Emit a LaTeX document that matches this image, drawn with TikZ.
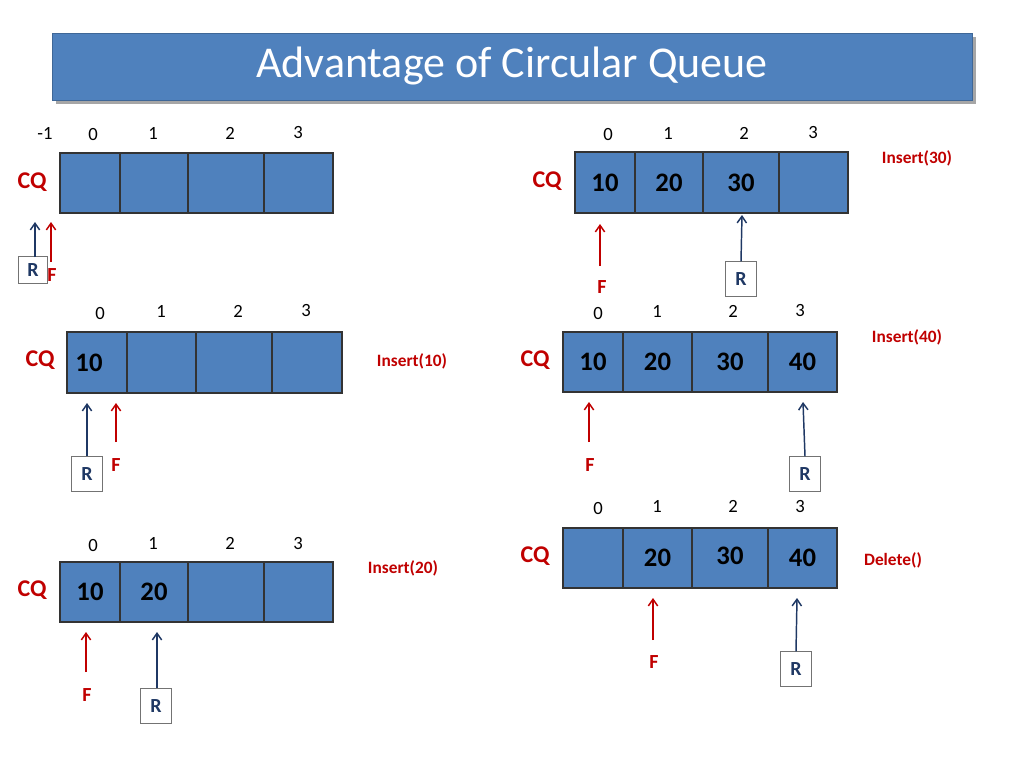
\documentclass[tikz,border=0pt]{standalone}
\usepackage{fontspec}
\setmainfont{Carlito}
\usetikzlibrary{arrows.meta}
\definecolor{cellblue}{HTML}{4F81BD}
\definecolor{cqred}{HTML}{C00000}
\definecolor{navy}{HTML}{1F3864}
\tikzset{
  cell/.style={draw=black!80,line width=1.2pt,fill=cellblue,inner sep=0pt,font=\bfseries\fontsize{20}{22}\selectfont},
  idx/.style={font=\fontsize{14}{16}\selectfont,inner sep=0pt},
  cqlab/.style={text=cqred,font=\bfseries\fontsize{18}{20}\selectfont,inner sep=0pt},
  oplab/.style={text=cqred,font=\bfseries\fontsize{13}{15}\selectfont,inner sep=0pt},
  flab/.style={text=cqred,font=\bfseries\fontsize{15}{17}\selectfont,inner sep=0pt},
  rbox/.style={draw=black!55,fill=white,text=navy,font=\bfseries\fontsize{15}{17}\selectfont,inner sep=0pt,minimum width=23pt,minimum height=26pt},
  rarr/.style={draw=navy,line width=1.1pt,-{Straight Barb[length=5pt,width=7pt]}},
  farr/.style={draw=cqred,line width=1.1pt,-{Straight Barb[length=5pt,width=7pt]}},
}
% \qc{name}{x1}{x2}{y1}{y2}{text}
\newcommand\qc[6]{\node[cell,minimum width={(#3-#2)*0.75pt},minimum height={(#5-#4)*0.75pt}] (#1) at ({(#2+#3)/2},{(#4+#5)/2}) {#6};}
\begin{document}
\begin{tikzpicture}[x=0.75pt,y=-0.75pt]
\useasboundingbox (0,0) rectangle (1024,768);
% title
\fill[black!35] (56,37) rectangle (976,104);
\node[fill=cellblue,draw=cellblue!80!black,minimum width=920*0.75pt,minimum height=67*0.75pt,text=white,font=\fontsize{33}{36}\selectfont,inner sep=0pt] (title) at (512,66.5) {Advantage of Circular Queue};

% Queue 1
\qc{a0}{60}{120}{153}{213}{} \qc{a1}{120}{188}{153}{213}{} \qc{a2}{188}{264}{153}{213}{} \qc{a3}{264}{333}{153}{213}{}
\node[idx] (am) at (45,133) {-1}; \node[idx] (ai0) at (93,135) {0}; \node[idx] (ai1) at (153,133) {1}; \node[idx] (ai2) at (230,133) {2}; \node[idx] (ai3) at (298,133) {3};
\node[cqlab] (acq) at (32,182) {CQ};
\node[rbox,minimum width=22pt,minimum height=20pt] (aR) at (33,270) {R};
\node[flab] (aF) at (52,275) {F};
\coordinate (aRt) at (35,222); \coordinate (aFt) at (51,222);
\draw[rarr] (35,257) -- (aRt);
\draw[farr] (51,262) -- (aFt);

% Queue 2
\qc{b0}{67}{127}{332}{393}{\hspace*{-12pt}10} \qc{b1}{127}{196}{332}{393}{} \qc{b2}{196}{272}{332}{393}{} \qc{b3}{272}{342}{332}{393}{}
\node[idx] (bi0) at (100,313) {0}; \node[idx] (bi1) at (161,311) {1}; \node[idx] (bi2) at (238,311) {2}; \node[idx] (bi3) at (306,311) {3};
\node[cqlab] (bcq) at (40,360) {CQ};
\node[oplab] (bop) at (412,361) {Insert(10)};
\node[rbox] (bR) at (87,474) {R};
\node[flab] (bF) at (116,465) {F};
\coordinate (bRt) at (87,403); \coordinate (bFt) at (116,403);
\draw[rarr] (bR.north) -- (bRt);
\draw[farr] (116,442) -- (bFt);

% Queue 3
\qc{c0}{60}{120}{562}{622}{10} \qc{c1}{120}{188}{562}{622}{20} \qc{c2}{188}{264}{562}{622}{} \qc{c3}{264}{333}{562}{622}{}
\node[idx] (ci0) at (93,545) {0}; \node[idx] (ci1) at (153,543) {1}; \node[idx] (ci2) at (230,543) {2}; \node[idx] (ci3) at (298,543) {3};
\node[cqlab] (ccq) at (32,590) {CQ};
\node[oplab] (cop) at (403,568) {Insert(20)};
\node[flab] (cF) at (87,695) {F};
\node[rbox] (cR) at (156,706) {R};
\coordinate (cFt) at (86,632); \coordinate (cRt) at (157,632);
\draw[farr] (86,672) -- (cFt);
\draw[rarr] (157,688) -- (cRt);

% Right queue 1
\qc{d0}{575}{635}{152}{213}{10} \qc{d1}{635}{703}{152}{213}{20} \qc{d2}{703}{779}{152}{213}{30} \qc{d3}{779}{848}{152}{213}{}
\node[idx] (di0) at (608,135) {0}; \node[idx] (di1) at (668,133) {1}; \node[idx] (di2) at (744,133) {2}; \node[idx] (di3) at (813,133) {3};
\node[cqlab] (dcq) at (547,181) {CQ};
\node[oplab] (dop) at (917,158) {Insert(30)};
\node[flab] (dF) at (602,287) {F};
\node[rbox] (dR) at (741,279) {R};
\coordinate (dFt) at (600,224); \coordinate (dRt) at (742,215);
\draw[farr] (600,266) -- (dFt);
\draw[rarr] (dR.north) -- (dRt);

% Right queue 2
\qc{e0}{563}{623}{332}{392}{10} \qc{e1}{623}{692}{332}{392}{20} \qc{e2}{692}{768}{332}{392}{30} \qc{e3}{768}{837}{332}{392}{40}
\node[idx] (ei0) at (598,313) {0}; \node[idx] (ei1) at (657,311) {1}; \node[idx] (ei2) at (733,311) {2}; \node[idx] (ei3) at (800,311) {3};
\node[cqlab] (ecq) at (535,360) {CQ};
\node[oplab] (eop) at (907,337) {Insert(40)};
\node[flab] (eF) at (590,465) {F};
\node[rbox] (eR) at (805,474) {R};
\coordinate (eFt) at (589,402); \coordinate (eRt) at (803,402);
\draw[farr] (589,442) -- (eFt);
\draw[rarr] (eR.north) -- (eRt);

% Right queue 3
\qc{f0}{563}{623}{528}{588}{} \qc{f1}{623}{692}{528}{588}{20} \qc{f2}{692}{768}{528}{588}{\raisebox{3pt}{30}} \qc{f3}{768}{837}{528}{588}{40}
\node[idx] (fi0) at (598,508) {0}; \node[idx] (fi1) at (657,506) {1}; \node[idx] (fi2) at (733,506) {2}; \node[idx] (fi3) at (800,506) {3};
\node[cqlab] (fcq) at (535,556) {CQ};
\node[oplab] (fop) at (893,560) {Delete()};
\node[flab] (fF) at (654,662) {F};
\node[rbox] (fR) at (796,669) {R};
\coordinate (fFt) at (653,598); \coordinate (fRt) at (797,598);
\draw[farr] (653,640) -- (fFt);
\draw[rarr] (fR.north) -- (fRt);
\end{tikzpicture}
\end{document}
